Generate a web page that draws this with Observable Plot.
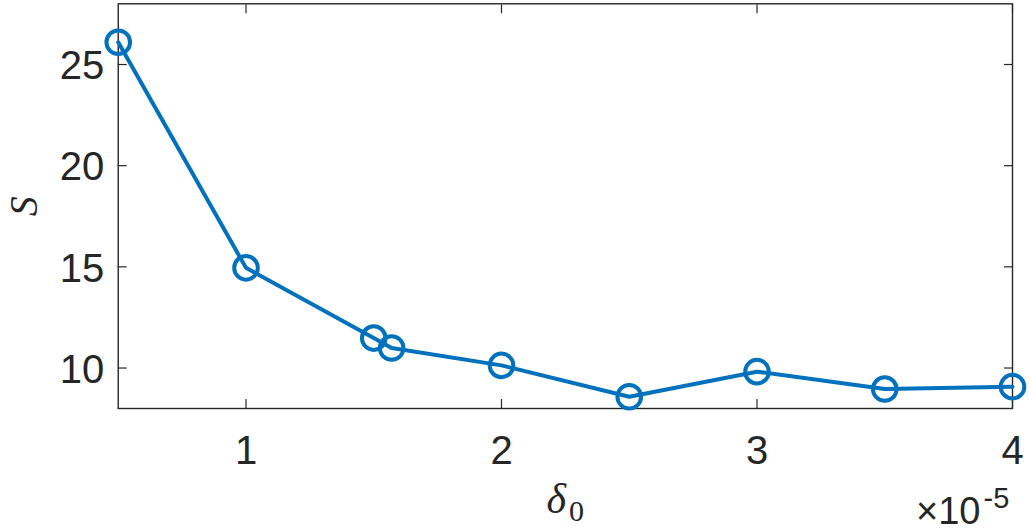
<!DOCTYPE html>
<html><head><meta charset="utf-8">
<script src="https://cdn.jsdelivr.net/npm/d3@7"></script>
<script src="https://cdn.jsdelivr.net/npm/@observablehq/plot@0.6"></script>
<style>
html,body{margin:0;padding:0;background:#fff;}
svg{display:block;}
</style>
</head><body>
<div id="chart"></div>
<script>
const delta0 = [0.5, 1, 1.5, 1.57, 2, 2.5, 3, 3.5, 4];          // ×10^-5
const S      = [26.1, 14.95, 11.48, 10.99, 10.13, 8.58, 9.82, 8.96, 9.08];
const xTicks = [1, 2, 3, 4];
const yTicks = [10, 15, 20, 25];

const data = delta0.map((d, i) => ({x: d, y: S[i]}));
const ink = "#262626";
const blue = "#0072BD";
const sans = "'Liberation Sans', Arial, Helvetica, sans-serif";
const serif = "'Liberation Serif', 'Times New Roman', serif";
const fmt = d => String(d);

const chart = Plot.plot({
  width: 1029,
  height: 532,
  marginLeft: 117.75,
  marginRight: 17,
  marginTop: 3.3,
  marginBottom: 124,
  style: {fontFamily: sans, fontSize: "40px", color: ink, background: "#fff", overflow: "visible"},
  x: {domain: [0.5, 4]},
  y: {domain: [8, 28]},
  marks: [
    Plot.frame({stroke: ink, strokeWidth: 1.4}),
    // tick labels
    Plot.axisX(xTicks, {anchor: "bottom", tickSize: 0, tickPadding: 27, tickFormat: fmt, fontSize: 40, fill: ink, label: null}),
    Plot.axisY(yTicks, {anchor: "left", tickSize: 0, tickPadding: 14, tickFormat: fmt, fontSize: 40, fill: ink, dy: 2, label: null}),
    // inward ticks on all four sides
    Plot.axisX(xTicks, {anchor: "bottom", tickSize: 9, dy: -9, text: null, stroke: ink, strokeWidth: 1.2, label: null}),
    Plot.axisX(xTicks, {anchor: "top", tickSize: 9, dy: 9, text: null, stroke: ink, strokeWidth: 1.2, label: null}),
    Plot.axisY(yTicks, {anchor: "left", tickSize: 9, dx: 9, text: null, stroke: ink, strokeWidth: 1.2, label: null}),
    Plot.axisY(yTicks, {anchor: "right", tickSize: 9, dx: -9, text: null, stroke: ink, strokeWidth: 1.2, label: null}),
    // data
    Plot.line(data, {x: "x", y: "y", stroke: blue, strokeWidth: 4}),
    Plot.dot(data, {x: "x", y: "y", r: 11.8, stroke: blue, strokeWidth: 4, fill: "none"}),
    // axis labels
    Plot.text(["δ"], {frameAnchor: "bottom", text: d => d, dx: -9, dy: 104, lineAnchor: "bottom", textAnchor: "middle", fontFamily: serif, fontStyle: "italic", fontSize: 42, fill: ink}),
    Plot.text(["0"], {frameAnchor: "bottom", text: d => d, dx: 11, dy: 112, lineAnchor: "bottom", textAnchor: "middle", fontFamily: serif, fontSize: 30, fill: ink}),
    Plot.text(["S"], {frameAnchor: "left", text: d => d, dx: -94, rotate: -90, lineAnchor: "middle", textAnchor: "middle", fontFamily: serif, fontStyle: "italic", fontSize: 40, fill: ink}),
    Plot.text(["×10"], {frameAnchor: "bottom-right", text: d => d, dx: -32, dy: 115, lineAnchor: "bottom", textAnchor: "end", fontFamily: sans, fontSize: 38, fill: ink}),
    Plot.text(["-5"], {frameAnchor: "bottom-right", text: d => d, dx: -29, dy: 99, lineAnchor: "bottom", textAnchor: "start", fontFamily: sans, fontSize: 29, fill: ink})
  ]
});
document.getElementById("chart").appendChild(chart);
</script>
</body></html>
